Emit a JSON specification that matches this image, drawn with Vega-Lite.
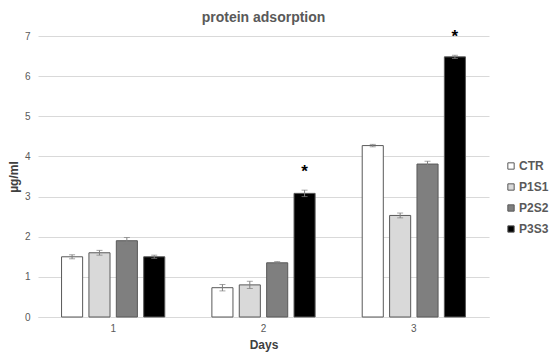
{
  "$schema": "https://vega.github.io/schema/vega-lite/v6.json",
  "width": 451,
  "height": 281,
  "autosize": {"type": "none"},
  "padding": {"left": 38, "top": 36, "right": 61, "bottom": 39},
  "background": "white",
  "title": {"text": "protein adsorption", "fontSize": 14, "fontWeight": "bold", "color": "#595959", "font": "Liberation Sans", "offset": 3},
  "config": {
    "view": {"stroke": null},
    "font": "Liberation Sans"
  },
  "data": {"values": [
    {"day": "1", "group": "CTR", "value": 1.5, "lo": 1.45, "hi": 1.55, "star": ""},
    {"day": "1", "group": "P1S1", "value": 1.6, "lo": 1.54, "hi": 1.66, "star": ""},
    {"day": "1", "group": "P2S2", "value": 1.9, "lo": 1.82, "hi": 1.98, "star": ""},
    {"day": "1", "group": "P3S3", "value": 1.5, "lo": 1.46, "hi": 1.54, "star": ""},
    {"day": "2", "group": "CTR", "value": 0.73, "lo": 0.65, "hi": 0.81, "star": ""},
    {"day": "2", "group": "P1S1", "value": 0.8, "lo": 0.71, "hi": 0.89, "star": ""},
    {"day": "2", "group": "P2S2", "value": 1.35, "lo": 1.32, "hi": 1.38, "star": ""},
    {"day": "2", "group": "P3S3", "value": 3.08, "lo": 3.0, "hi": 3.16, "star": "*"},
    {"day": "3", "group": "CTR", "value": 4.27, "lo": 4.24, "hi": 4.3, "star": ""},
    {"day": "3", "group": "P1S1", "value": 2.53, "lo": 2.47, "hi": 2.59, "star": ""},
    {"day": "3", "group": "P2S2", "value": 3.81, "lo": 3.74, "hi": 3.88, "star": ""},
    {"day": "3", "group": "P3S3", "value": 6.48, "lo": 6.44, "hi": 6.52, "star": "*"}
  ]},
  "encoding": {
    "x": {
      "field": "day", "type": "nominal",
      "scale": {"paddingInner": 0, "paddingOuter": 0},
      "axis": {"title": "Days", "titleFontSize": 12, "titleFontWeight": "bold", "titleColor": "#404040", "titlePadding": 6,
               "labelAngle": 0, "labelFontSize": 10, "labelColor": "#595959", "ticks": false, "labelPadding": 6,
               "domainColor": "#d9d9d9", "domainWidth": 1}
    },
    "xOffset": {"field": "group", "type": "nominal", "scale": {"paddingInner": 0.23, "paddingOuter": 0.86}}
  },
  "layer": [
    {
      "mark": {"type": "bar", "stroke": "#595959", "strokeWidth": 1},
      "encoding": {
        "y": {"field": "value", "type": "quantitative", "scale": {"domain": [0, 7]},
              "axis": {"title": "µg/ml", "titleFontSize": 12, "titleFontWeight": "bold", "titleColor": "#404040", "titlePadding": 4,
                       "values": [0,1,2,3,4,5,6,7], "labelFontSize": 10, "labelColor": "#595959", "ticks": false, "labelPadding": 8,
                       "domain": false, "gridColor": "#d9d9d9", "gridWidth": 1}},
        "color": {"field": "group", "type": "nominal",
                  "scale": {"domain": ["CTR", "P1S1", "P2S2", "P3S3"], "range": ["#ffffff", "#d9d9d9", "#7f7f7f", "#000000"]},
                  "legend": {"title": null, "orient": "none", "legendX": 467, "legendY": 124, "symbolType": "square", "symbolSize": 40,
                             "symbolStrokeColor": "#595959", "symbolStrokeWidth": 1, "labelFontSize": 12, "labelFontWeight": "bold",
                             "labelColor": "#595959", "rowPadding": 9, "labelOffset": 2}}
      }
    },
    {
      "mark": {"type": "rule", "color": "#7f7f7f", "strokeWidth": 1},
      "encoding": {
        "y": {"field": "lo", "type": "quantitative"},
        "y2": {"field": "hi"}
      }
    },
    {
      "mark": {"type": "tick", "color": "#7f7f7f", "size": 6, "thickness": 1, "orient": "horizontal"},
      "encoding": {"y": {"field": "hi", "type": "quantitative"}}
    },
    {
      "mark": {"type": "tick", "color": "#7f7f7f", "size": 6, "thickness": 1, "orient": "horizontal"},
      "encoding": {"y": {"field": "lo", "type": "quantitative"}}
    },
    {
      "mark": {"type": "text", "fontSize": 17, "fontWeight": "bold", "color": "#000000", "dy": -9, "baseline": "bottom"},
      "encoding": {"y": {"field": "hi", "type": "quantitative"}, "text": {"field": "star"}}
    }
  ]
}
